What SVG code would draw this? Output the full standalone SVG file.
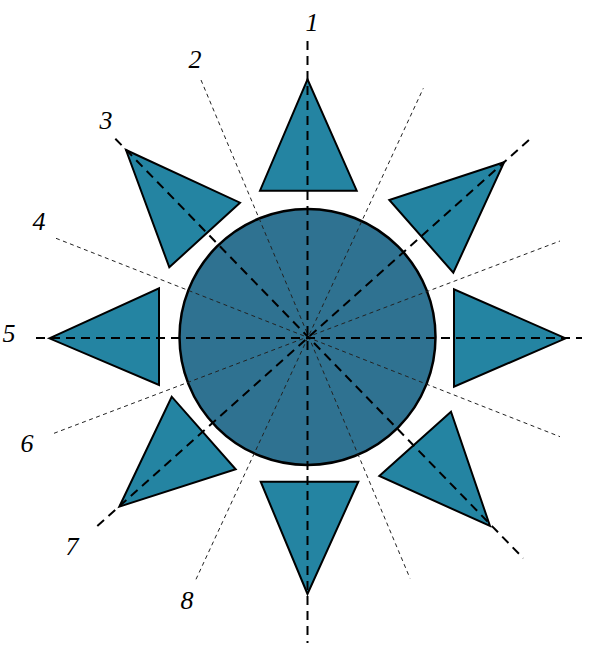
<svg xmlns="http://www.w3.org/2000/svg" width="600" height="661" viewBox="0 0 600 661">
<style>
.tri{fill:#2484a2;stroke:#000;stroke-width:2;stroke-linejoin:miter}
.sun{fill:#2f7291;stroke:#000;stroke-width:2.5}
.thick{stroke:#000;stroke-width:2;stroke-dasharray:9 6;fill:none}
.thin{stroke:#222;stroke-width:1;stroke-dasharray:4 3.5;fill:none}
.lbl{font-family:"Liberation Serif","DejaVu Serif",serif;font-style:italic;font-size:26px;fill:#000;text-anchor:middle}
</style>
<rect width="600" height="661" fill="#fff"/>
<g id="triangles">
<polygon id="t1" class="tri" points="307.5,79.3 260,190.7 356.7,190.7"/>
<polygon id="t2" class="tri" points="504,162.3 389.3,200 453.3,272.7"/>
<polygon id="t3" class="tri" points="565.7,338.3 454,289.3 454,386.7"/>
<polygon id="t4" class="tri" points="490,526 451,411.7 379.3,476"/>
<polygon id="t5" class="tri" points="307.5,594 260.7,481.7 358.3,481.7"/>
<polygon id="t6" class="tri" points="119.3,506.7 171.7,396.7 235.7,469.3"/>
<polygon id="t7" class="tri" points="49.3,338.3 159,288.3 159,385"/>
<polygon id="t8" class="tri" points="126,150 240,202.7 169.3,267.3"/>
</g>
<g id="circle">
<circle class="sun" cx="307.5" cy="337" r="128"/>
</g>
<g id="connectors">
<line class="thin" x1="201" y1="80" x2="410" y2="578.3"/>
<line class="thin" x1="56" y1="238.3" x2="560" y2="436.7"/>
<line class="thin" x1="54" y1="433.3" x2="560" y2="241"/>
<line class="thin" x1="196" y1="579.3" x2="423.3" y2="88.3"/>
<line class="thick" x1="307.5" y1="41" x2="307.5" y2="643"/>
<line class="thick" x1="36" y1="338" x2="582" y2="338"/>
<line class="thick" x1="115.3" y1="138.7" x2="523.3" y2="558.3"/>
<line class="thick" x1="97.3" y1="526" x2="532.7" y2="136.7"/>
</g>
<g id="labels">
<text class="lbl" x="312" y="31">1</text>
<text class="lbl" x="195" y="68">2</text>
<text class="lbl" x="106" y="129">3</text>
<text class="lbl" x="39" y="230">4</text>
<text class="lbl" x="9" y="342">5</text>
<text class="lbl" x="27" y="452">6</text>
<text class="lbl" x="72" y="555">7</text>
<text class="lbl" x="187" y="609">8</text>
</g>
</svg>
